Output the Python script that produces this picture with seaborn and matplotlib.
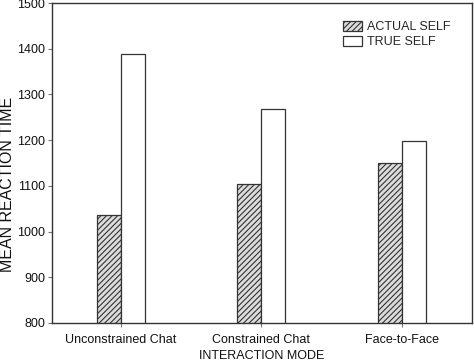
import matplotlib
matplotlib.use("Agg")
import matplotlib.pyplot as plt
import seaborn as sns
import pandas as pd

modes = ["Unconstrained Chat", "Constrained Chat", "Face-to-Face"]
actual_self = [1036, 1103, 1150]
true_self = [1388, 1268, 1198]
series_names = ["ACTUAL SELF", "TRUE SELF"]
y_ticks = [800, 900, 1000, 1100, 1200, 1300, 1400, 1500]

df = pd.DataFrame({
    "mode": modes * 2,
    "value": actual_self + true_self,
    "series": [series_names[0]] * 3 + [series_names[1]] * 3,
})

sns.set_style("white")
plt.rcParams["font.family"] = ["Liberation Sans", "DejaVu Sans"]
plt.rcParams["hatch.color"] = "#7a7a7a"
plt.rcParams["hatch.linewidth"] = 0.8

fig = plt.figure(figsize=(4.74, 3.62), dpi=100)
ax = fig.add_axes([52 / 474, 1 - 323 / 362, 420 / 474, 320 / 362])

sns.barplot(data=df, x="mode", y="value", hue="series", order=modes,
            hue_order=series_names, palette=["#dcdcdc", "white"],
            width=0.34, edgecolor="#333333", linewidth=0.9, ax=ax,
            saturation=1)

for bar in ax.containers[0]:
    bar.set_hatch("//////")

ax.set_ylim(800, 1500)
ax.set_xlim(-0.49, 2.5)
ax.set_yticks(y_ticks)
ax.tick_params(axis="both", direction="out", length=3, width=0.8,
               color="#777777", labelsize=9, labelcolor="#111111", pad=2,
               left=True, bottom=True)
ax.tick_params(axis="x", pad=5)
ax.set_xlabel("INTERACTION MODE", fontsize=9, color="#111111", labelpad=3)
ax.set_ylabel("MEAN REACTION TIME", fontsize=11.5, color="#111111")
ax.yaxis.set_label_coords(-0.088, 0.433)
for s in ax.spines.values():
    s.set_visible(True)
    s.set_color("#333333")
    s.set_linewidth(1.0)

leg = ax.legend(loc="upper left", bbox_to_anchor=(343 / 474, 1 - 21 / 362),
                bbox_transform=fig.transFigure, frameon=False,
                borderpad=0, borderaxespad=0,
                fontsize=9, handlelength=1.5, handleheight=0.8,
                handletextpad=0.45, labelspacing=0.25)
for h in leg.legend_handles:
    h.set_edgecolor("#333333")
    h.set_linewidth(0.9)
leg.legend_handles[0].set_hatch("//////")

fig.savefig("out.png", dpi=100)
